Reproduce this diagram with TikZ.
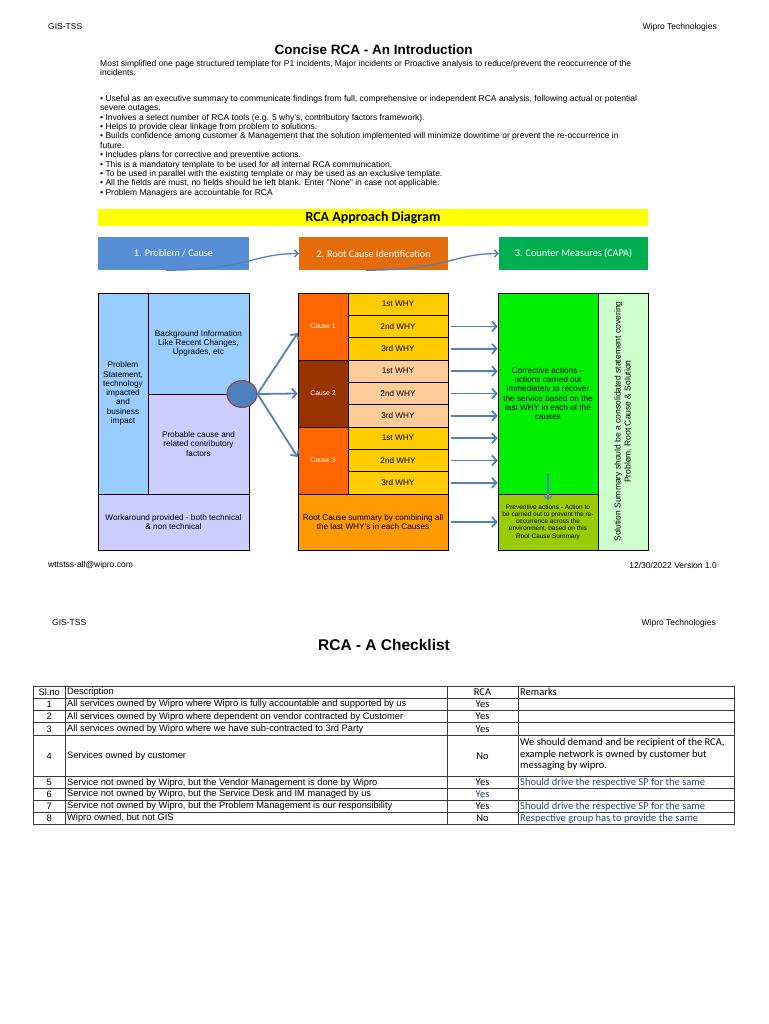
\documentclass[tikz,border=0pt]{standalone}
\usepackage{fontspec}
\setmainfont{Liberation Sans}
\newfontfamily\calibrifont{Carlito}
\usetikzlibrary{positioning,shapes.geometric,arrows.meta}
\usepackage{xcolor}
\definecolor{stepblue}{HTML}{558ED5}
\definecolor{steporange}{HTML}{E46C0A}
\definecolor{stepgreen}{HTML}{00B050}
\definecolor{baryellow}{HTML}{FFFF00}
\definecolor{paleblue}{HTML}{99CCFF}
\definecolor{lavender}{HTML}{CCCCFF}
\definecolor{causeorange}{HTML}{FF6600}
\definecolor{causebrown}{HTML}{993300}
\definecolor{whygold}{HTML}{FFCC00}
\definecolor{whypeach}{HTML}{FFCC99}
\definecolor{summaryorange}{HTML}{FF9900}
\definecolor{actiongreen}{HTML}{00F000}
\definecolor{preventgreen}{HTML}{99CC00}
\definecolor{solutiongreen}{HTML}{CCFFCC}
\definecolor{arrowblue}{HTML}{4F81BD}
\definecolor{hubred}{HTML}{A0403D}
\definecolor{remarkblue}{HTML}{1F497D}
\definecolor{gridgray}{HTML}{3A3A3A}

\tikzset{
  panel/.style={draw=black, line width=0.7pt, align=center, inner sep=1pt,
                font=\fontsize{8.2}{9.3}\selectfont},
  whycell/.style={panel, minimum width=100pt, minimum height=22.33pt},
  causecell/.style={panel, minimum width=50pt, minimum height=67pt,
                    text=white, font=\fontsize{6.8}{8}\selectfont},
  stepbox/.style={minimum width=150pt, minimum height=33pt, text=white,
                  font=\calibrifont\fontsize{10.2}{11}\selectfont},
  flowarrow/.style={draw=arrowblue, line width=1.8pt,
                    -{Straight Barb[length=4.5pt,width=10pt]}},
  bendarrow/.style={draw=arrowblue, line width=1.3pt,
                    -{Straight Barb[length=3.5pt,width=7pt]}},
  pagehead/.style={font=\fontsize{8.5}{10}\selectfont, inner sep=0pt},
  bodytext/.style={font=\fontsize{8.5}{9.4}\selectfont, inner sep=0pt, align=left},
  celltext/.style={font=\fontsize{9.3}{11}\selectfont, inner sep=0pt},
  calitext/.style={font=\calibrifont\fontsize{10.5}{11.3}\selectfont, inner sep=0pt},
}

\begin{document}
\begin{tikzpicture}[x=1pt, y=-1pt]
  \fill[white] (0,0) rectangle (768,1024);

  % Page 1 header
  \node[pagehead, anchor=west] (gistss1) at (48,27) {GIS-TSS};
  \node[pagehead, anchor=east] (wipro1) at (717,27) {Wipro Technologies};
  \node[font=\bfseries\fontsize{13.5}{15}\selectfont] (introtitle) at (373.5,50)
        {Concise RCA - An Introduction};

  % Intro text
  \node[bodytext, anchor=north west] (introtext) at (100,60)
        {Most simplified one page structured template for P1 incidents, Major incidents or Proactive analysis to reduce/prevent the reoccurrence of the\\
         incidents.};
  \node[bodytext, anchor=north west] (bullets) at (100,95)
        {• Useful as an executive summary to communicate findings from full, comprehensive or independent RCA analysis, following actual or potential\\
         severe outages.\\
         • Involves a select number of RCA tools (e.g. 5 why's, contributory factors framework).\\
         • Helps to provide clear linkage from problem to solutions.\\
         • Builds confidence among customer \& Management that the solution implemented will minimize downtime or prevent the re-occurrence in\\
         future.\\
         • Includes plans for corrective and preventive actions.\\
         • This is a mandatory template to be used for all internal RCA communication.\\
         • To be used in parallel with the existing template or may be used as an exclusive template.\\
         • All the fields are must, no fields should be left blank. Enter "None" in case not applicable.\\
         • Problem Managers are accountable for RCA};

  % Approach strip
  \node[fill=baryellow, minimum width=550pt, minimum height=17pt, inner sep=0pt,
        font=\calibrifont\bfseries\fontsize{14}{15}\selectfont] (approachbar)
        at (373,217.5) {RCA Approach Diagram};
  \node[stepbox, fill=stepblue, minimum width=151pt] (step1) at (173.5,253.5) {1. Problem / Cause};
  \node[stepbox, fill=steporange, minimum width=149pt] (step2) at (373.5,253.5) {2. Root Cause Identification};
  \node[stepbox, fill=stepgreen, minimum width=149pt] (step3) at (573.5,253.5) {3. Counter Measures (CAPA)};
  \draw[bendarrow] ([xshift=-8pt]step1.south) .. controls +(80,0) and +(-45,0) .. (step2.west);
  \draw[bendarrow] ([xshift=-8pt]step2.south) .. controls +(80,0) and +(-45,0) .. (step3.west);

  % Problem side
  \node[panel, fill=paleblue, minimum width=50pt, minimum height=201pt] (probstmt) at (123,393.5)
        {Problem\\Statement,\\technology\\impacted\\and\\business\\impact};
  \node[panel, fill=paleblue, minimum width=101pt, minimum height=101pt] (backinfo) at (198.5,343.5)
        {Background Information\\Like Recent Changes,\\Upgrades, etc};
  \node[panel, fill=lavender, minimum width=101pt, minimum height=100pt] (probcause) at (198.5,444)
        {Probable cause and\\related contributory\\factors};
  \node[panel, fill=lavender, minimum width=151pt, minimum height=56pt] (workaround) at (173.5,522)
        {Workaround provided - both technical\\\& non technical};
  \node[ellipse, draw=hubred, line width=1pt, fill=arrowblue, minimum width=30pt,
        minimum height=27pt, inner sep=0pt] (hub) at (242,394) {};

  % Causes and whys
  \node[causecell, fill=causeorange] (cause1) at (323,326.5) {Cause 1};
  \node[causecell, fill=causebrown] (cause2) at (323,393.5) {Cause 2};
  \node[causecell, fill=causeorange] (cause3) at (323,460.5) {Cause 3};
  \node[whycell, fill=whygold] (why11) at (398,304.2) {1st WHY};
  \node[whycell, fill=whygold] (why12) at (398,326.5) {2nd WHY};
  \node[whycell, fill=whygold] (why13) at (398,348.8) {3rd WHY};
  \node[whycell, fill=whypeach] (why21) at (398,371.2) {1st WHY};
  \node[whycell, fill=whypeach] (why22) at (398,393.5) {2nd WHY};
  \node[whycell, fill=whypeach] (why23) at (398,415.8) {3rd WHY};
  \node[whycell, fill=whygold] (why31) at (398,438.2) {1st WHY};
  \node[whycell, fill=whygold] (why32) at (398,460.5) {2nd WHY};
  \node[whycell, fill=whygold] (why33) at (398,482.8) {3rd WHY};
  \node[panel, fill=summaryorange, minimum width=150pt, minimum height=56pt] (rcsummary) at (373,522)
        {Root Cause summary by combining all\\the last WHY's in each Causes};

  % Counter measures
  \node[panel, fill=actiongreen, minimum width=100pt, minimum height=201pt] (corrective) at (548,393.5)
        {Corrective actions --\\actions carried out\\immediately to recover\\the service based on the\\last WHY in each of the\\causes};
  \node[panel, fill=preventgreen, minimum width=100pt, minimum height=56pt,
        font=\fontsize{6.5}{7.3}\selectfont] (preventive) at (548,522)
        {Preventive actions - Action to\\be carried out to prevent the re-\\occurrence across the\\environment, based on this\\Root Cause Summary};
  \node[panel, fill=solutiongreen, rotate=90, minimum width=257pt, minimum height=50pt,
        font=\fontsize{8.5}{10}\selectfont] (solution) at (623,421.5)
        {Solution Summary should be a consolidated statement covering\\Problem, Root Cause \& Solution};

  % Arrows
  \draw[flowarrow] (hub.east) -- ([yshift=-6.5pt]cause1.west);
  \draw[flowarrow] (hub.east) -- (cause2.west);
  \draw[flowarrow] (hub.east) -- ([yshift=3.5pt]cause3.west);
  \draw[flowarrow] ([xshift=3pt]why12.east) -- (why12.east -| corrective.west);
  \draw[flowarrow] ([xshift=3pt]why13.east) -- (why13.east -| corrective.west);
  \draw[flowarrow] ([xshift=3pt]why21.east) -- (why21.east -| corrective.west);
  \draw[flowarrow] ([xshift=3pt]why22.east) -- (why22.east -| corrective.west);
  \draw[flowarrow] ([xshift=3pt]why23.east) -- (why23.east -| corrective.west);
  \draw[flowarrow] ([xshift=3pt]why31.east) -- (why31.east -| corrective.west);
  \draw[flowarrow] ([xshift=3pt]why32.east) -- (why32.east -| corrective.west);
  \draw[flowarrow] ([xshift=3pt]why33.east) -- (why33.east -| corrective.west);
  \draw[flowarrow] ([xshift=3pt]rcsummary.east) -- (rcsummary.east -| preventive.west);
  \draw[bendarrow] ([yshift=21pt]corrective.south) -- ([yshift=-6pt]corrective.south);

  % Page 1 footer
  \node[pagehead, anchor=west] (mail) at (48,565) {wttstss-all@wipro.com};
  \node[pagehead, anchor=east] (version) at (717,565) {12/30/2022 Version 1.0};

  % Page 2 header
  \node[pagehead, anchor=west] (gistss2) at (52,623) {GIS-TSS};
  \node[pagehead, anchor=east] (wipro2) at (716,623) {Wipro Technologies};
  \node[font=\bfseries\fontsize{15.5}{17}\selectfont] (checktitle) at (384,645) {RCA - A Checklist};

  % Checklist grid
  \draw[gridgray, line width=0.7pt] (33.5,686) rectangle (734,824.3);
  \foreach \y in {698.3,710.5,722.7,735,776.7,788.5,800.3,812.3}
    \draw[gridgray, line width=0.7pt] (33.5,\y) -- (734,\y);
  \foreach \x in {65,447,518}
    \draw[gridgray, line width=0.7pt] (\x,686) -- (\x,824.3);

  % Checklist text
  \node[celltext] (hsl) at (49.3,692.2) {Sl.no};
  \node[celltext, anchor=west] (hdesc) at (67,692.2) {Description};
  \node[calitext] (hrca) at (482.5,692.2) {RCA};
  \node[calitext, anchor=west] (hrem) at (520,692.2) {Remarks};

  \node[celltext] (sl1) at (49.3,704.4) {1};
  \node[celltext] (sl2) at (49.3,716.6) {2};
  \node[celltext] (sl3) at (49.3,728.9) {3};
  \node[celltext] (sl4) at (49.3,755.9) {4};
  \node[celltext] (sl5) at (49.3,782.6) {5};
  \node[celltext] (sl6) at (49.3,794.4) {6};
  \node[celltext] (sl7) at (49.3,806.3) {7};
  \node[celltext] (sl8) at (49.3,818.3) {8};

  \node[celltext, anchor=west] (desc1) at (67,704.4) {All services owned by Wipro where Wipro is fully accountable and supported by us};
  \node[celltext, anchor=west] (desc2) at (67,716.6) {All services owned by Wipro where dependent on vendor contracted by Customer};
  \node[celltext, anchor=west] (desc3) at (67,728.9) {All services owned by Wipro where we have sub-contracted to 3rd Party};
  \node[celltext, anchor=west] (desc4) at (67,755.9) {Services owned by customer};
  \node[celltext, anchor=west] (desc5) at (67,782.6) {Service not owned by Wipro, but the Vendor Management  is done by Wipro};
  \node[celltext, anchor=west] (desc6) at (67,794.4) {Service not owned by Wipro, but the Service Desk and IM managed by us};
  \node[celltext, anchor=west] (desc7) at (67,806.3) {Service not owned by Wipro, but the Problem Management is our responsibility};
  \node[celltext, anchor=west] (desc8) at (67,818.3) {Wipro owned, but not GIS};

  \node[calitext] (rca1) at (482.5,704.4) {Yes};
  \node[calitext] (rca2) at (482.5,716.6) {Yes};
  \node[calitext] (rca3) at (482.5,728.9) {Yes};
  \node[calitext] (rca4) at (482.5,755.9) {No};
  \node[calitext] (rca5) at (482.5,782.6) {Yes};
  \node[calitext, text=remarkblue] (rca6) at (482.5,794.4) {Yes};
  \node[calitext] (rca7) at (482.5,806.3) {Yes};
  \node[calitext] (rca8) at (482.5,818.3) {No};

  \node[calitext, anchor=west, align=left] (rem4) at (520,754.5)
        {We should demand and be recipient of the RCA,\\example network is owned by customer but\\messaging by wipro.};
  \node[calitext, anchor=west, text=remarkblue] (rem5) at (520,782.6) {Should drive the respective SP for the same};
  \node[calitext, anchor=west, text=remarkblue] (rem7) at (520,806.3) {Should drive the respective SP for the same};
  \node[calitext, anchor=west, text=remarkblue] (rem8) at (520,818.3) {Respective group has to provide the same};
\end{tikzpicture}
\end{document}
